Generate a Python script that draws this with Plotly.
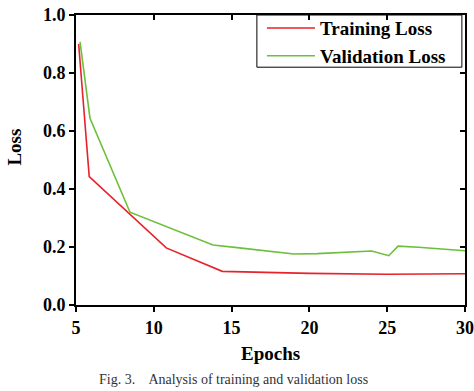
import plotly.graph_objects as go

train_epochs = [5.17, 5.85, 10.8, 14.4, 20.0, 25.0, 30.0]
train_loss = [0.900, 0.443, 0.197, 0.116, 0.109, 0.106, 0.108]

val_epochs = [5.26, 5.9, 8.47, 13.8, 15.5, 19.0, 20.5, 24.0, 25.1, 25.7, 27.0, 28.5, 30.0]
val_loss = [0.907, 0.644, 0.320, 0.207, 0.197, 0.176, 0.177, 0.186, 0.170, 0.203, 0.199, 0.192, 0.187]

x_ticks = [5, 10, 15, 20, 25, 30]
y_ticks = [0.0, 0.2, 0.4, 0.6, 0.8, 1.0]

SERIF = "Liberation Serif, Times New Roman, serif"

fig = go.Figure()
fig.add_trace(go.Scatter(x=train_epochs, y=train_loss, mode="lines", name="Training Loss",
                         line=dict(color="#e8212b", width=1.6), legendgroup="a"))
fig.add_trace(go.Scatter(x=val_epochs, y=val_loss, mode="lines", name="Validation Loss",
                         line=dict(color="#6cbf3a", width=1.6), legendgroup="b"))
# invisible trace to host mirrored inward-tick axes
fig.add_trace(go.Scatter(x=[5], y=[0], xaxis="x2", yaxis="y2", mode="markers",
                         marker=dict(opacity=0), showlegend=False, hoverinfo="skip"))

axis_common = dict(showgrid=False, zeroline=False, showline=True, linecolor="black",
                   linewidth=2, tickcolor="black", tickwidth=2, ticklen=5, automargin=False)

fig.update_layout(
    width=474, height=391,
    margin=dict(l=76, r=9, t=10, b=86),
    paper_bgcolor="white", plot_bgcolor="white",
    font=dict(family=SERIF, size=18, color="black", weight="bold"),
    xaxis=dict(range=[5, 30], tickvals=x_ticks, ticks="outside", mirror=True, **axis_common),
    yaxis=dict(range=[0, 1], tickvals=y_ticks, tickformat=".1f", ticks="outside", mirror=True, **axis_common),
    xaxis2=dict(range=[5, 30], tickvals=x_ticks, overlaying="x", side="top", ticks="inside",
                showticklabels=False, anchor="y", **axis_common),
    yaxis2=dict(range=[0, 1], tickvals=y_ticks, overlaying="y", side="right", ticks="inside",
                showticklabels=False, anchor="x", **axis_common),
    legend=dict(x=0.478, y=1.02, xanchor="left", yanchor="top", borderwidth=0,
                bgcolor="rgba(0,0,0,0)", tracegroupgap=0, itemwidth=48,
                font=dict(family=SERIF, size=19, color="black", weight="bold")),
    showlegend=True,
)

# legend frame
fig.add_shape(type="rect", xref="paper", yref="paper", x0=0.465, x1=0.992, y0=0.820, y1=1.0,
              line=dict(color="black", width=1), fillcolor="white", layer="below")

fig.add_annotation(text="Loss", xref="paper", yref="paper", x=-0.157, y=0.546,
                   textangle=-90, showarrow=False, xanchor="center", yanchor="middle",
                   font=dict(family=SERIF, size=19, color="black", weight="bold"))
fig.add_annotation(text="Epochs", xref="paper", yref="paper", x=0.5, y=-0.166,
                   showarrow=False, xanchor="center", yanchor="middle",
                   font=dict(family=SERIF, size=19, color="black", weight="bold"))
fig.add_annotation(text="Fig. 3.    Analysis of training and validation loss", xref="paper", yref="paper",
                   x=0.405, y=-0.258, showarrow=False, xanchor="center", yanchor="middle",
                   font=dict(family=SERIF, size=14, color="#333333", weight="normal"))

fig.write_html("out.html", config={"displayModeBar": False},
               post_script="document.body.style.margin='0';document.body.style.overflow='hidden';")
